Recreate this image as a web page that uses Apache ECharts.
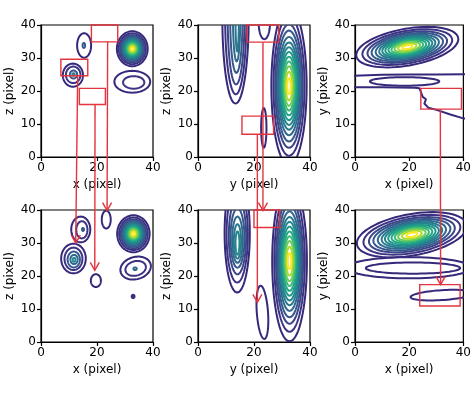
<!DOCTYPE html>
<html>
<head>
<meta charset="utf-8">
<script src="https://cdn.jsdelivr.net/npm/echarts@6/dist/echarts.min.js"></script>
<style>
  html, body { margin: 0; padding: 0; background: #fff; }
  #chart { width: 474px; height: 399px; }
</style>
</head>
<body>
<div id="chart"></div>
<script>
// contour level colours (viridis-like, outer -> peak)
const levelColors = ['#36287a', '#3c3383', '#3d4589', '#37588c', '#30698e', '#29788e', '#23888e',
  '#1f988b', '#22a884', '#3cbb75', '#6ccd5a', '#addc30', '#fde725'];
// relative ring sizes for the strong peaks
const peakScale = [1, 0.88, 0.78, 0.7, 0.62, 0.55, 0.49, 0.43, 0.37, 0.31, 0.25, 0.18, 0.1];

const xTicks = [0, 20, 40];
const yTicks = [0, 10, 20, 30, 40];
const panelX = ['x (pixel)', 'y (pixel)', 'x (pixel)', 'x (pixel)', 'y (pixel)', 'x (pixel)'];
const panelY = ['z (pixel)', 'z (pixel)', 'y (pixel)', 'z (pixel)', 'z (pixel)', 'y (pixel)'];

// single rings: [cx, cy, rx, ry, rotDeg, level]
const ringsXZTop = [
  [15.4, 33.8, 2.5, 3.7, 0, 0], [15.3, 33.8, 0.45, 0.75, 0, 3],
  [11.4, 24.8, 3.6, 3.5, 0, 0], [11.5, 24.9, 2.6, 2.5, 0, 1], [11.6, 25, 1.3, 1.2, 0, 3], [11.6, 25, 0.4, 0.4, 0, 5],
  [32.6, 22.8, 6.4, 3.3, 0, 0], [33.1, 22.6, 3.8, 1.9, 0, 1]
];
const ringsYZTop = [
  [13.4, 42, 4.7, 25.8, 0, 0], [13.5, 42, 3.8, 23, 0, 1], [13.6, 42, 3.0, 20, 0, 2],
  [13.7, 42, 2.2, 16.5, 0, 3], [13.8, 42, 1.3, 13, 0, 4], [14, 42, 0.6, 10, 0, 5],
  [23.7, 40.5, 2.0, 4.8, 0, 0],
  [23.5, 8.8, 0.95, 6, 0, 0]
];
const ringsXYTop = [
  [18.3, 22.9, 12.8, 1.3, 0, 0]
];
const ringsXZBot = [
  [14.2, 34.1, 3.4, 3.9, 0, 0], [14.6, 34, 2.0, 2.6, 0, 1], [15.0, 34.1, 0.35, 0.45, 0, 3],
  [11.6, 25.3, 4.4, 4.5, 0, 0], [11.6, 25.2, 3.2, 3.4, 0, 1], [11.7, 25.0, 2.2, 2.4, 0, 3],
  [11.8, 25, 1.3, 1.4, 0, 4], [11.8, 24.9, 0.5, 0.6, 0, 6],
  [23.3, 37.1, 1.6, 2.7, 0, 0],
  [19.6, 18.6, 1.8, 1.95, 0, 0],
  [33.8, 22.4, 5.5, 3.4, 10, 0], [33.8, 22.3, 3.7, 2.2, 10, 1], [33.6, 22.2, 0.6, 0.4, 0, 4],
  [32.9, 13.8, 0.5, 0.5, 0, 0], [32.9, 13.8, 0.2, 0.2, 0, 1]
];
const ringsYZBot = [
  [14, 33, 4.5, 18, 0, 0], [14, 32.5, 3.8, 14.5, 0, 1], [14.1, 32, 3.1, 11.5, 0, 2],
  [14.1, 31.5, 2.5, 9, 0, 3], [14.1, 31, 1.9, 7, 0, 4], [14.1, 30.5, 1.3, 5.2, 0, 5], [14.1, 30, 0.7, 3.5, 0, 6],
  [23.0, 9.0, 2.0, 8.1, 5, 0]
];
const ringsXYBot = [
  [20, 22.5, 23, 3.2, 0, 0], [21.4, 22.4, 17.4, 1.7, 0, 0],
  [32, 14.2, 11.5, 1.5, 3, 0]
];
const ringSets = [ringsXZTop, ringsYZTop, ringsXYTop, ringsXZBot, ringsYZBot, ringsXYBot];

// strong peaks: [cx, cy, rx, ry, rotDeg, levels]
const peaks = [
  [[32.6, 32.8, 5.5, 5.3, 0, 13]],
  [[32.5, 21.5, 6.3, 24, 0, 13]],
  [[19.3, 33.3, 19, 5.6, 8, 13]],
  [[33.0, 32.8, 5.8, 5.6, 0, 13]],
  [[32.7, 24.5, 6.2, 24.3, 0, 13]],
  [[21, 32.5, 20.5, 6.3, 8, 13]]
];

// open band contour in the top x-y panel
const bandXYTop = [[-1, 24.6], [10, 24.9], [20, 25.0], [30, 25.0], [41, 25.1], [41, 11.6],
  [40, 11.7], [35.2, 12.9], [30.4, 14.2], [27.1, 14.9], [25.6, 16.2], [26.2, 17.5], [25.0, 18.2],
  [23.8, 20.8], [22, 21.0], [10, 21.1], [-1, 21.1], [-1, 24.6]];

// red boxes: [panel, x0, y0, x1, y1]
const boxes = [
  [0, 18, 34.9, 27.4, 40], [0, 7.1, 24.6, 16.7, 29.6], [0, 13.7, 15.9, 23, 20.8],
  [1, 17.5, 34.8, 28.8, 40], [1, 15.7, 6.9, 27, 12.4],
  [2, 24.3, 14.5, 39.3, 20.8],
  [4, 20, 34.7, 29.2, 40],
  [5, 23.9, 10.9, 38.8, 17.4]
];
// arrows: [fromPanel, x, y, toPanel, x, y]
const arrows = [
  [0, 13.1, 24.6, 3, 12.4, 30.0],
  [0, 19.3, 15.9, 3, 19.2, 21.7],
  [0, 23.8, 34.9, 3, 23.6, 39.8],
  [1, 23.2, 34.8, 4, 23.2, 39.8],
  [1, 21.2, 6.9, 4, 21.2, 12.0],
  [2, 31.5, 14.5, 5, 31.6, 17.4]
];

const red = '#e3343f';
const font = 'DejaVu Sans';
const gridLefts = [41, 198, 355];
const gridTops = [25, 210];

const chart = echarts.init(document.getElementById('chart'));

function renderRing(params, api) {
  const cx = api.value(0), cy = api.value(1), rx = api.value(2), ry = api.value(3);
  const a = api.value(4) * Math.PI / 180;
  const pts = [];
  for (let i = 0; i < 72; i++) {
    const t = i / 72 * Math.PI * 2;
    const ex = rx * Math.cos(t), ey = ry * Math.sin(t);
    pts.push(api.coord([cx + ex * Math.cos(a) - ey * Math.sin(a), cy + ex * Math.sin(a) + ey * Math.cos(a)]));
  }
  return {
    type: 'polygon',
    shape: { points: pts },
    style: { fill: 'none', stroke: levelColors[api.value(5)], lineWidth: 2 }
  };
}

function renderBox(params, api) {
  const p0 = api.coord([api.value(0), api.value(1)]);
  const p1 = api.coord([api.value(2), api.value(3)]);
  return {
    type: 'rect',
    shape: { x: Math.min(p0[0], p1[0]), y: Math.min(p0[1], p1[1]), width: Math.abs(p1[0] - p0[0]), height: Math.abs(p1[1] - p0[1]) },
    style: { fill: 'none', stroke: red, lineWidth: 1.4 },
    z2: 10
  };
}

const grids = [], xAxes = [], yAxes = [], series = [];
for (let p = 0; p < 6; p++) {
  grids.push({
    left: gridLefts[p % 3], top: gridTops[Math.floor(p / 3)], width: p % 3 === 2 ? 111 : 112, height: 132,
    show: true, borderColor: '#000', borderWidth: 1.2, backgroundColor: '#fff'
  });
  const axisCommon = {
    gridIndex: p, type: 'value', min: 0, max: 40,
    splitLine: { show: false },
    axisLine: { show: true, lineStyle: { color: '#000', width: 1.2 } },
    axisTick: { show: true, length: 4, lineStyle: { color: '#000', width: 1.2 } },
    axisLabel: { color: '#000', fontSize: 12, fontFamily: font, margin: 5 },
    nameLocation: 'middle',
    nameTextStyle: { color: '#000', fontSize: 12, fontFamily: font }
  };
  xAxes.push(Object.assign({}, axisCommon, { interval: xTicks[1] - xTicks[0], name: panelX[p], nameGap: 22 }));
  yAxes.push(Object.assign({}, axisCommon, { interval: yTicks[1] - yTicks[0], name: panelY[p], nameGap: 25 }));

  // strong peaks: outer rings first
  const data = [];
  peaks[p].forEach(([cx, cy, rx, ry, rot, n]) => {
    for (let k = 0; k < n; k++) data.push([cx, cy, rx * peakScale[k], ry * peakScale[k], rot, k]);
  });
  series.push({
    type: 'custom', xAxisIndex: p, yAxisIndex: p, clip: true, silent: true,
    renderItem: renderRing, data: ringSets[p].concat(data), encode: { x: 0, y: 1 }
  });
  if (p === 2) {
    series.push({
      type: 'line', xAxisIndex: p, yAxisIndex: p, clip: true, silent: true, showSymbol: false,
      data: bandXYTop, lineStyle: { color: levelColors[0], width: 2 }
    });
  }
  series.push({
    type: 'custom', xAxisIndex: p, yAxisIndex: p, clip: false, silent: true, z: 5,
    renderItem: renderBox, data: boxes.filter(b => b[0] === p).map(b => b.slice(1)), encode: { x: [0, 2], y: [1, 3] }
  });
}

chart.setOption({
  animation: false,
  backgroundColor: '#fff',
  textStyle: { fontFamily: font },
  grid: grids, xAxis: xAxes, yAxis: yAxes, series: series
});

// arrows run from one panel into the one below
const graphics = [];
arrows.forEach(([pa, xa, ya, pb, xb, yb]) => {
  const a = chart.convertToPixel({ gridIndex: pa }, [xa, ya]);
  const b = chart.convertToPixel({ gridIndex: pb }, [xb, yb]);
  const len = Math.hypot(b[0] - a[0], b[1] - a[1]);
  const dx = (b[0] - a[0]) / len, dy = (b[1] - a[1]) / len;
  const L = 8, W = 4.5;
  graphics.push({
    type: 'line', z: 100, silent: true,
    shape: { x1: a[0], y1: a[1], x2: b[0], y2: b[1] },
    style: { stroke: red, lineWidth: 1.4 }
  });
  graphics.push({
    type: 'polyline', z: 100, silent: true,
    shape: { points: [[b[0] - L * dx - W * dy, b[1] - L * dy + W * dx], b, [b[0] - L * dx + W * dy, b[1] - L * dy - W * dx]] },
    style: { stroke: red, lineWidth: 1.4, fill: 'none' }
  });
});
chart.setOption({ graphic: graphics });

window.addEventListener('resize', () => chart.resize());
</script>
</body>
</html>
